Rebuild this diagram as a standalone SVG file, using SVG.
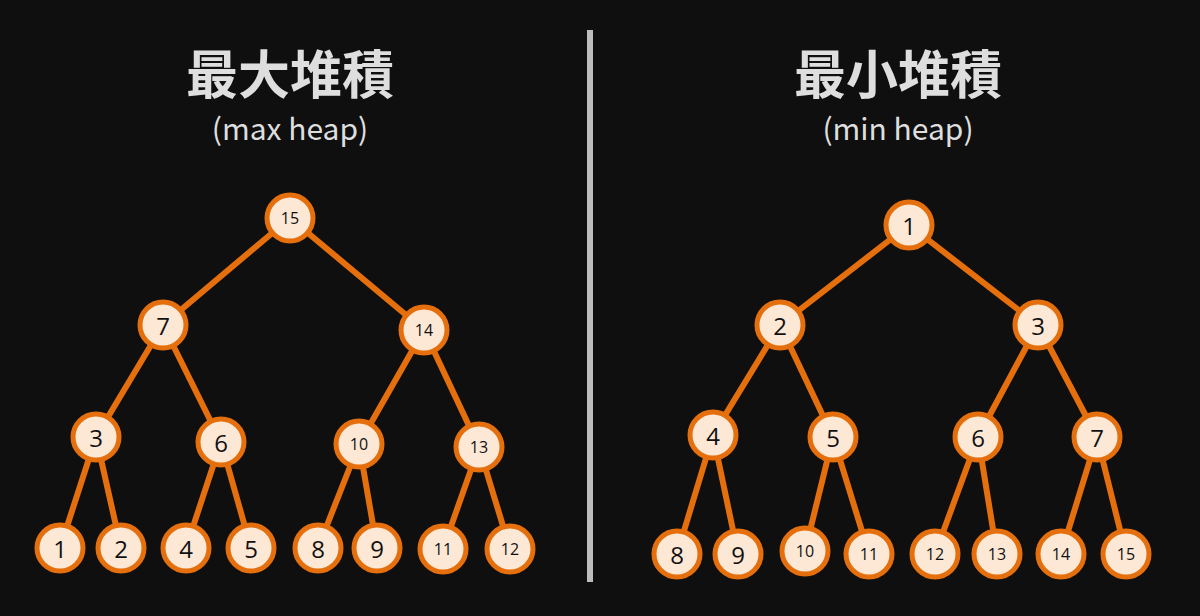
<svg xmlns="http://www.w3.org/2000/svg" width="1200" height="616" viewBox="0 0 1200 616">
<style>
.e{stroke:#e56f0c;stroke-width:6;fill:none}
.n circle{fill:#fde8d6;stroke:#e56f0c;stroke-width:5}
.n text{font-family:"Open Sans","Noto Sans",sans-serif;fill:#111;text-anchor:middle;dominant-baseline:central}
.s{font-size:24px}.d{font-size:16px}
.t{font-family:"Noto Sans CJK TC","Noto Sans",sans-serif;fill:#dedede;text-anchor:middle}
</style>
<rect width="1200" height="616" fill="#0f0f0f"/>
<line x1="590" y1="30" x2="590" y2="582" stroke="#bdbdbd" stroke-width="6"/>
<text class="t" x="290" y="94" font-size="52" font-weight="bold">最大堆積</text>
<text class="t" x="290" y="140" font-size="30">(max heap)</text>
<text class="t" x="898" y="94" font-size="52" font-weight="bold">最小堆積</text>
<text class="t" x="898" y="140" font-size="30">(min heap)</text>
<g id="edges">
<path class="e" d="M290 218L163 325M290 218L424 330M163 325L96 437M163 325L221 442M424 330L359 444M424 330L479 447M96 437L60 548M96 437L121 548M221 442L186 548M221 442L251 548M359 444L318 548M359 444L377 548M479 447L443 549M479 447L510 549"/>
<path class="e" d="M909 225L780 325M909 225L1038 325M780 325L713 435M780 325L833 437M1038 325L978 437M1038 325L1097 437M713 435L677 554M713 435L738 554M833 437L805 551M833 437L869 554M978 437L935 554M978 437L997 554M1097 437L1061 554M1097 437L1126 554"/>
</g>
<g id="n15" class="n"><circle cx="290" cy="218" r="23"/><text class="d" x="290" y="218">15</text></g>
<g id="n7" class="n"><circle cx="163" cy="325" r="23"/><text class="s" x="163" y="325">7</text></g>
<g id="n14" class="n"><circle cx="424" cy="330" r="23"/><text class="d" x="424" y="330">14</text></g>
<g id="n3" class="n"><circle cx="96" cy="437" r="23"/><text class="s" x="96" y="437">3</text></g>
<g id="n6" class="n"><circle cx="221" cy="442" r="23"/><text class="s" x="221" y="442">6</text></g>
<g id="n10" class="n"><circle cx="359" cy="444" r="23"/><text class="d" x="359" y="444">10</text></g>
<g id="n13" class="n"><circle cx="479" cy="447" r="23"/><text class="d" x="479" y="447">13</text></g>
<g id="n1" class="n"><circle cx="60" cy="548" r="23"/><text class="s" x="60" y="548">1</text></g>
<g id="n2" class="n"><circle cx="121" cy="548" r="23"/><text class="s" x="121" y="548">2</text></g>
<g id="n4" class="n"><circle cx="186" cy="548" r="23"/><text class="s" x="186" y="548">4</text></g>
<g id="n5" class="n"><circle cx="251" cy="548" r="23"/><text class="s" x="251" y="548">5</text></g>
<g id="n8" class="n"><circle cx="318" cy="548" r="23"/><text class="s" x="318" y="548">8</text></g>
<g id="n9" class="n"><circle cx="377" cy="548" r="23"/><text class="s" x="377" y="548">9</text></g>
<g id="n11" class="n"><circle cx="443" cy="549" r="23"/><text class="d" x="443" y="549">11</text></g>
<g id="n12" class="n"><circle cx="510" cy="549" r="23"/><text class="d" x="510" y="549">12</text></g>
<g id="m1" class="n"><circle cx="909" cy="225" r="23"/><text class="s" x="909" y="225">1</text></g>
<g id="m2" class="n"><circle cx="780" cy="325" r="23"/><text class="s" x="780" y="325">2</text></g>
<g id="m3" class="n"><circle cx="1038" cy="325" r="23"/><text class="s" x="1038" y="325">3</text></g>
<g id="m4" class="n"><circle cx="713" cy="435" r="23"/><text class="s" x="713" y="435">4</text></g>
<g id="m5" class="n"><circle cx="833" cy="437" r="23"/><text class="s" x="833" y="437">5</text></g>
<g id="m6" class="n"><circle cx="978" cy="437" r="23"/><text class="s" x="978" y="437">6</text></g>
<g id="m7" class="n"><circle cx="1097" cy="437" r="23"/><text class="s" x="1097" y="437">7</text></g>
<g id="m8" class="n"><circle cx="677" cy="554" r="23"/><text class="s" x="677" y="554">8</text></g>
<g id="m9" class="n"><circle cx="738" cy="554" r="23"/><text class="s" x="738" y="554">9</text></g>
<g id="m10" class="n"><circle cx="805" cy="551" r="23"/><text class="d" x="805" y="551">10</text></g>
<g id="m11" class="n"><circle cx="869" cy="554" r="23"/><text class="d" x="869" y="554">11</text></g>
<g id="m12" class="n"><circle cx="935" cy="554" r="23"/><text class="d" x="935" y="554">12</text></g>
<g id="m13" class="n"><circle cx="997" cy="554" r="23"/><text class="d" x="997" y="554">13</text></g>
<g id="m14" class="n"><circle cx="1061" cy="554" r="23"/><text class="d" x="1061" y="554">14</text></g>
<g id="m15" class="n"><circle cx="1126" cy="554" r="23"/><text class="d" x="1126" y="554">15</text></g>
</svg>
